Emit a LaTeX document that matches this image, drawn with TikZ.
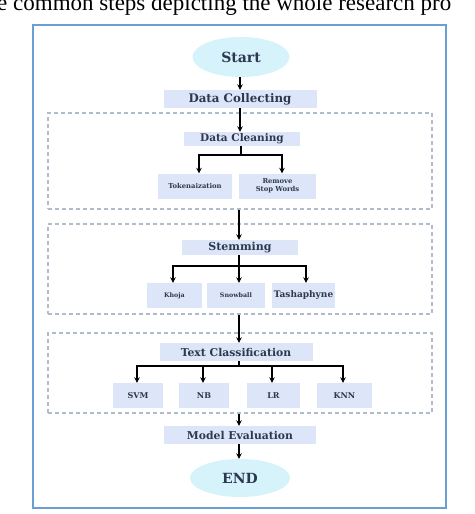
\documentclass[tikz,border=0pt]{standalone}
\usepackage{fontspec}
\setmainfont{DejaVu Serif}
\newfontfamily\capfont{Liberation Serif}
\usetikzlibrary{arrows.meta,shapes.geometric}
\definecolor{frameblue}{HTML}{6A9FD6}
\definecolor{boxblue}{HTML}{DCE6F8}
\definecolor{termcyan}{HTML}{D6F2FA}
\definecolor{grpgray}{HTML}{AEBCCC}
\definecolor{inkblue}{HTML}{2C3850}
\newcommand{\boxsize}[1]{\bfseries\fontsize{#1}{#1}\selectfont}
\tikzset{
  stepbox/.style={fill=boxblue, text=inkblue, inner sep=0pt, align=center},
  term/.style={ellipse, fill=termcyan, text=inkblue, inner sep=0pt, font=\boxsize{14}},
  grp/.style={draw=grpgray, dash pattern=on 4pt off 3pt, line width=1.1pt, inner sep=0pt},
  flow/.style={-{Stealth[length=5.5pt,width=5.5pt]}, line width=1.2pt}
}

\begin{document}
\begin{tikzpicture}[x=1pt,y=-1pt]
    \useasboundingbox (0,0) rectangle (474,514);
    %%caption_cut
    \begin{scope}
    \clip (0,0) rectangle (474,514);
    \node[anchor=base west, inner sep=0pt, font=\capfont\fontsize{23}{23}\selectfont] (cap) at (-3,10) {e common steps depicting the whole research pro};
    \end{scope}
    %%outer_frame
    \draw[frameblue, line width=1.5pt] (33,25) rectangle (446,508);
    %%dashed_groups
    \node[grp, minimum width=384, minimum height=96] (gclean) at (240,161) {};
    \node[grp, minimum width=384, minimum height=90] (gstem) at (240,269) {};
    \node[grp, minimum width=384, minimum height=80] (gclass) at (240,373) {};
    %%main_steps
    \node[term, minimum width=97, minimum height=40] (start) at (241,57) {Start};
    \node[stepbox, minimum width=153, minimum height=18, font=\boxsize{11.8}] (dcollect) at (240,99) {Data Collecting};
    \node[stepbox, minimum width=116, minimum height=14, font=\boxsize{10.5}] (dclean) at (242,139) {Data Cleaning};
    \node[stepbox, minimum width=116, minimum height=15, font=\boxsize{11}] (stem) at (240,247.5) {Stemming};
    \node[stepbox, minimum width=153, minimum height=18, font=\boxsize{10.8}] (tclass) at (236,352) {Text Classification};
    \node[stepbox, minimum width=152, minimum height=18, font=\boxsize{10.8}] (meval) at (240,435) {Model Evaluation};
    \node[term, minimum width=100, minimum height=38] (finish) at (240,478) {END};
    %%cleaning_branch
    \node[stepbox, minimum width=74, minimum height=25, font=\boxsize{6.8}] (tok) at (195,186) {Tokenaization};
    \node[stepbox, minimum width=77, minimum height=25, font=\boxsize{6.8}] (stop) at (277.5,186) {Remove\\[1pt]Stop Words};
    %%stemming_branch
    \node[stepbox, minimum width=55, minimum height=25, font=\boxsize{6.3}] (khoja) at (174.5,295.5) {Khoja};
    \node[stepbox, minimum width=58, minimum height=25, font=\boxsize{6.3}] (snow) at (236,295.5) {Snowball};
    \node[stepbox, minimum width=63, minimum height=25, font=\boxsize{9}] (tasha) at (303.5,295.5) {Tashaphyne};
    %%classifier_branch
    \node[stepbox, minimum width=50, minimum height=25, font=\boxsize{8}] (svm) at (138,395.5) {SVM};
    \node[stepbox, minimum width=50, minimum height=25, font=\boxsize{8}] (nb) at (204,395.5) {NB};
    \node[stepbox, minimum width=53, minimum height=25, font=\boxsize{8}] (lr) at (273.5,395.5) {LR};
    \node[stepbox, minimum width=55, minimum height=25, font=\boxsize{8}] (knn) at (344.5,395.5) {KNN};
    %%arrows
    \draw[flow] (start.south -| dcollect) -- (dcollect.north);
    \draw[flow] (dcollect) -- (dclean.north -| dcollect);
    \draw[flow] (gclean.south -| 239,0) -- (stem.north -| 239,0);
    \draw[flow] (gstem.south -| 239,0) -- (tclass.north -| 239,0);
    \draw[flow] (gclass.south -| 239,0) -- (meval.north -| 239,0);
    \draw[flow] (meval.south -| 239,0) -- (finish.north -| 239,0);
    %%branches
    \coordinate (cbr) at (241,155);
    \coordinate (sbr) at (239,266);
    \coordinate (tbr) at (239,366);
    \draw[line width=1.2pt] (dclean.south -| cbr) -- (cbr);
    \draw[line width=1.2pt] (stem.south -| sbr) -- (sbr);
    \draw[line width=1.2pt] (tclass.south -| tbr) -- (tbr);
    \foreach \kid/\kx in {tok/199,stop/282} \draw[flow] (cbr) -| (\kid.north -| \kx,0);
    \foreach \kid/\kx in {khoja/173,snow/239,tasha/306} \draw[flow] (sbr) -| (\kid.north -| \kx,0);
    \foreach \kid/\kx in {svm/137,nb/203,lr/272,knn/343} \draw[flow] (tbr) -| (\kid.north -| \kx,0);
\end{tikzpicture}
\end{document}
